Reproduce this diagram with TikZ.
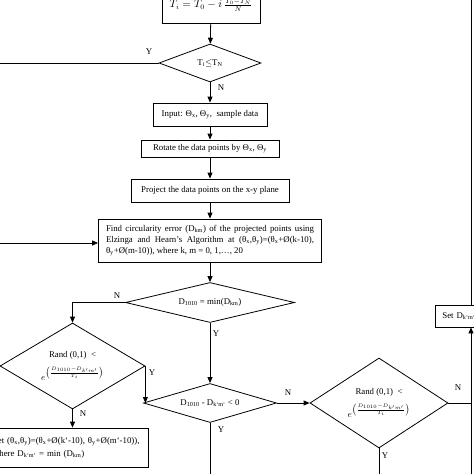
\documentclass[tikz,border=0pt]{standalone}
\usepackage{fontspec}
\setmainfont{Liberation Serif}
\usetikzlibrary{shapes.geometric, arrows.meta, calc}

\begin{document}
\begin{tikzpicture}[x=1pt, y=-1pt,
  font=\fontsize{8.8}{10.8}\selectfont,
  box/.style={draw, line width=0.8pt, inner sep=2pt, align=center},
  decision/.style={draw, diamond, line width=0.8pt, inner sep=0pt, align=center},
  lbl/.style={inner sep=0pt},
  flow/.style={line width=0.8pt},
  arr/.style={flow, -{Triangle[length=6pt,width=5pt]}}]
  \clip (0,0) rectangle (474,474);

  % Main column
  \node[box, minimum width=98pt, minimum height=36pt, font=\fontsize{10.5}{12}\selectfont] (temp) at (211,5) {$T_i = T_0 - i\,\frac{T_0-T_N}{N}$};
  \node[decision, shape aspect=2.7, minimum width=102pt, minimum height=38pt] (tcheck) at (210,63) {T\textsubscript{i}$\leq$T\textsubscript{N}};
  \node[box, minimum width=114pt, minimum height=23pt] (input) at (210,114.5) {Input: Θ\textsubscript{x}, Θ\textsubscript{y},\ \ sample data};
  \node[box, minimum width=138pt, minimum height=17pt] (rotate) at (210,148.5) {Rotate the data points by Θ\textsubscript{x}, Θ\textsubscript{y}};
  \node[box, minimum width=158pt, minimum height=23pt] (project) at (210,190.5) {Project the data points on the x-y plane};
  \node[box, text width=208pt, align=justify, minimum height=43pt, inner xsep=7.5pt] (find) at (210,240.5) {Find circularity error (D\textsubscript{km}) of the projected points using\linebreak Elzinga and Hearn's Algorithm at (θ\textsubscript{x},θ\textsubscript{y})=(θ\textsubscript{x}+Ø(k-10),\linebreak θ\textsubscript{y}+Ø(m-10)), where k, m = 0, 1,…, 20};
  \node[decision, shape aspect=4.2, minimum width=169pt, minimum height=40pt] (dmin) at (210,302.5) {D\textsubscript{1010} = min(D\textsubscript{km})};
  \node[decision, shape aspect=3.4, minimum width=133pt, minimum height=39pt] (ddiff) at (210,403) {D\textsubscript{1010} - D\textsubscript{k`m`} < 0};

  % Random acceptance tests
  \node[decision, shape aspect=1.7, minimum width=145pt, minimum height=86pt] (rand1) at (72.5,366) {Rand (0,1)\ \ <\\[6pt] $e^{\left(\frac{D_{1010}-D_{k'm'}}{T_i}\right)}$};
  \node[decision, shape aspect=1.55, minimum width=138pt, minimum height=90pt] (rand2) at (379,403) {Rand (0,1)\ \ <\\[6pt] $e^{\left(\frac{D_{1010}-D_{k'm'}}{T_i}\right)}$};

  % Updates
  \node[box, text width=150pt, align=left, minimum height=39pt, inner xsep=5pt] (setpt) at (68,447.5) {Set (θ\textsubscript{x},θ\textsubscript{y})=(θ\textsubscript{x}+Ø(k`-10), θ\textsubscript{y}+Ø(m`-10)),\\[2pt] where D\textsubscript{k`m`} = min (D\textsubscript{km})};
  \node[box, anchor=west, text width=60pt, align=left, minimum height=22pt, inner xsep=7pt] (setdm) at (435,316) {Set D\textsubscript{k`m`} =};

  % Free ends
  \coordinate (loopY) at (-5,63);
  \coordinate (loopin) at (-5,243);
  \coordinate (diffout) at (210,480);
  \coordinate (randout) at (379,480);
  \coordinate (railbot) at (471,480);
  \coordinate (railtop) at (471,-10);

  % Connectors
  \draw[arr] (temp) -- (tcheck);
  \draw[flow] (tcheck.west) -- (loopY);
  \draw[arr] (tcheck) -- (input);
  \draw[arr] (input) -- (rotate);
  \draw[arr] (rotate) -- (project);
  \draw[arr] (project) -- (find);
  \draw[arr] (loopin) -- (find.west |- loopin);
  \draw[arr] (find) -- (dmin);
  \draw[arr] (dmin.west) -| (rand1.north);
  \draw[arr] (dmin) -- (ddiff);
  \draw[arr] (rand1.east) -- (rand1.east |- ddiff.west);
  \draw[arr] (rand1.south) -- (rand1.south |- setpt.north);
  \draw[flow] (ddiff.south) -- (diffout);
  \draw[arr] (ddiff.east) -- (rand2.west);
  \draw[flow] (rand2.south) -- (randout);
  \draw[flow] (rand2.east) -- (rand2.east -| railbot);
  \draw[arr] (railbot) -- (railbot |- setdm.south);
  \draw[flow] (railtop |- setdm.north) -- (railtop);

  % Branch labels
  \node[lbl] (yT) at (149,52) {Y};
  \node[lbl] (nT) at (221,88) {N};
  \node[lbl] (nMin) at (117,296) {N};
  \node[lbl] (yMin) at (216,334) {Y};
  \node[lbl] (yR1) at (152,373) {Y};
  \node[lbl] (nR1) at (83,414) {N};
  \node[lbl] (yDiff) at (221,430) {Y};
  \node[lbl] (nDiff) at (288,393) {N};
  \node[lbl] (nR2) at (458,388) {N};
  \node[lbl] (yR2) at (385,456) {Y};
\end{tikzpicture}
\end{document}
